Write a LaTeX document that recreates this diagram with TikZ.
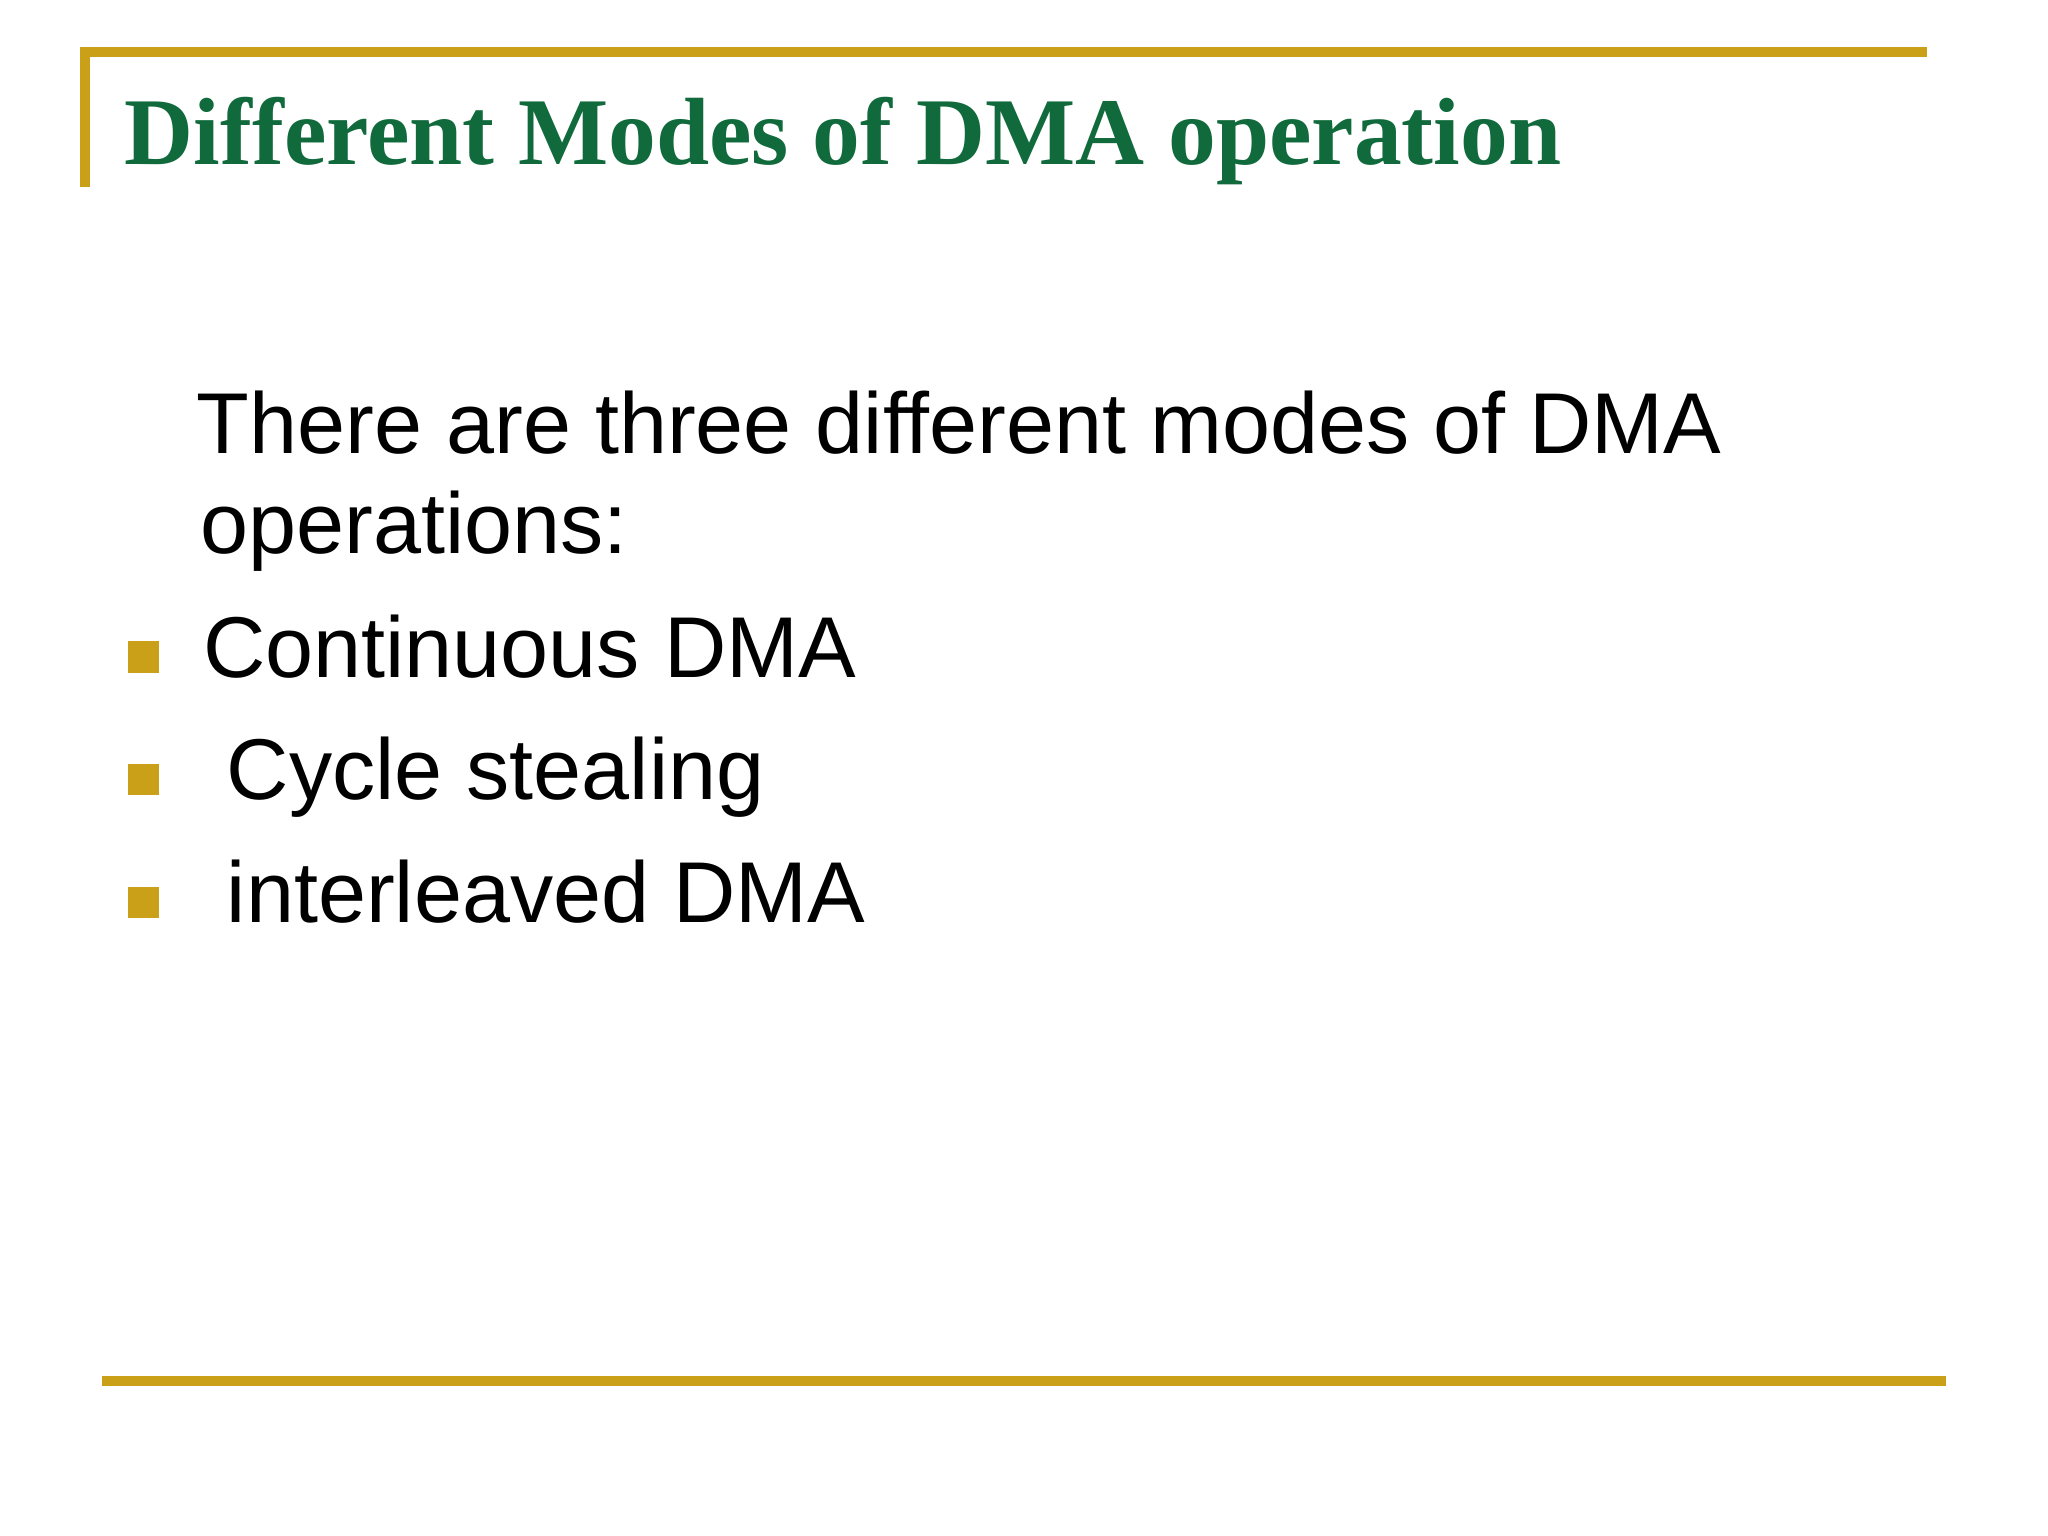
\documentclass[tikz,border=0pt]{standalone}
\usepackage{fontspec}
\setmainfont{Liberation Sans}
\newfontfamily\titlefont{Liberation Serif}
\definecolor{gold}{HTML}{C9A017}
\definecolor{tgreen}{HTML}{106A3C}
\begin{document}
\begin{tikzpicture}[x=0.01cm,y=-0.01cm,
  rule/.style={draw=gold,line width=2.2pt},
  body/.style={anchor=base west,inner sep=0pt,font=\fontsize{18.8pt}{22pt}\selectfont},
  bullet/.style={fill=gold,draw=none}]
\useasboundingbox (0,0) rectangle (1568,1176);
\fill[white] (0,0) rectangle (1568,1176);
\draw[rule] (65,143) coordinate (v1) -- (65,40) coordinate (v2) -- (1475,40) coordinate (v3);
\draw[rule] (78,1057) coordinate (b1) -- (1490,1057) coordinate (b2);
\node[anchor=base west,inner sep=0pt,text=tgreen,font=\titlefont\bfseries\fontsize{20.8pt}{24pt}\selectfont] (title) at (95,126) {Different Modes of DMA operation};
\node[body] (l1) at (150,347) {There are three different modes of DMA};
\node[body] (l2) at (153,424) {operations:};
\node[body] (l3) at (155,519) {Continuous DMA};
\node[body] (l4) at (173,612) {Cycle stealing};
\node[body] (l5) at (173,706) {interleaved DMA};
\fill[bullet] (98,491) rectangle (122,515);
\fill[bullet] (98,585) rectangle (122,609);
\fill[bullet] (98,679) rectangle (122,703);
\end{tikzpicture}
\end{document}
